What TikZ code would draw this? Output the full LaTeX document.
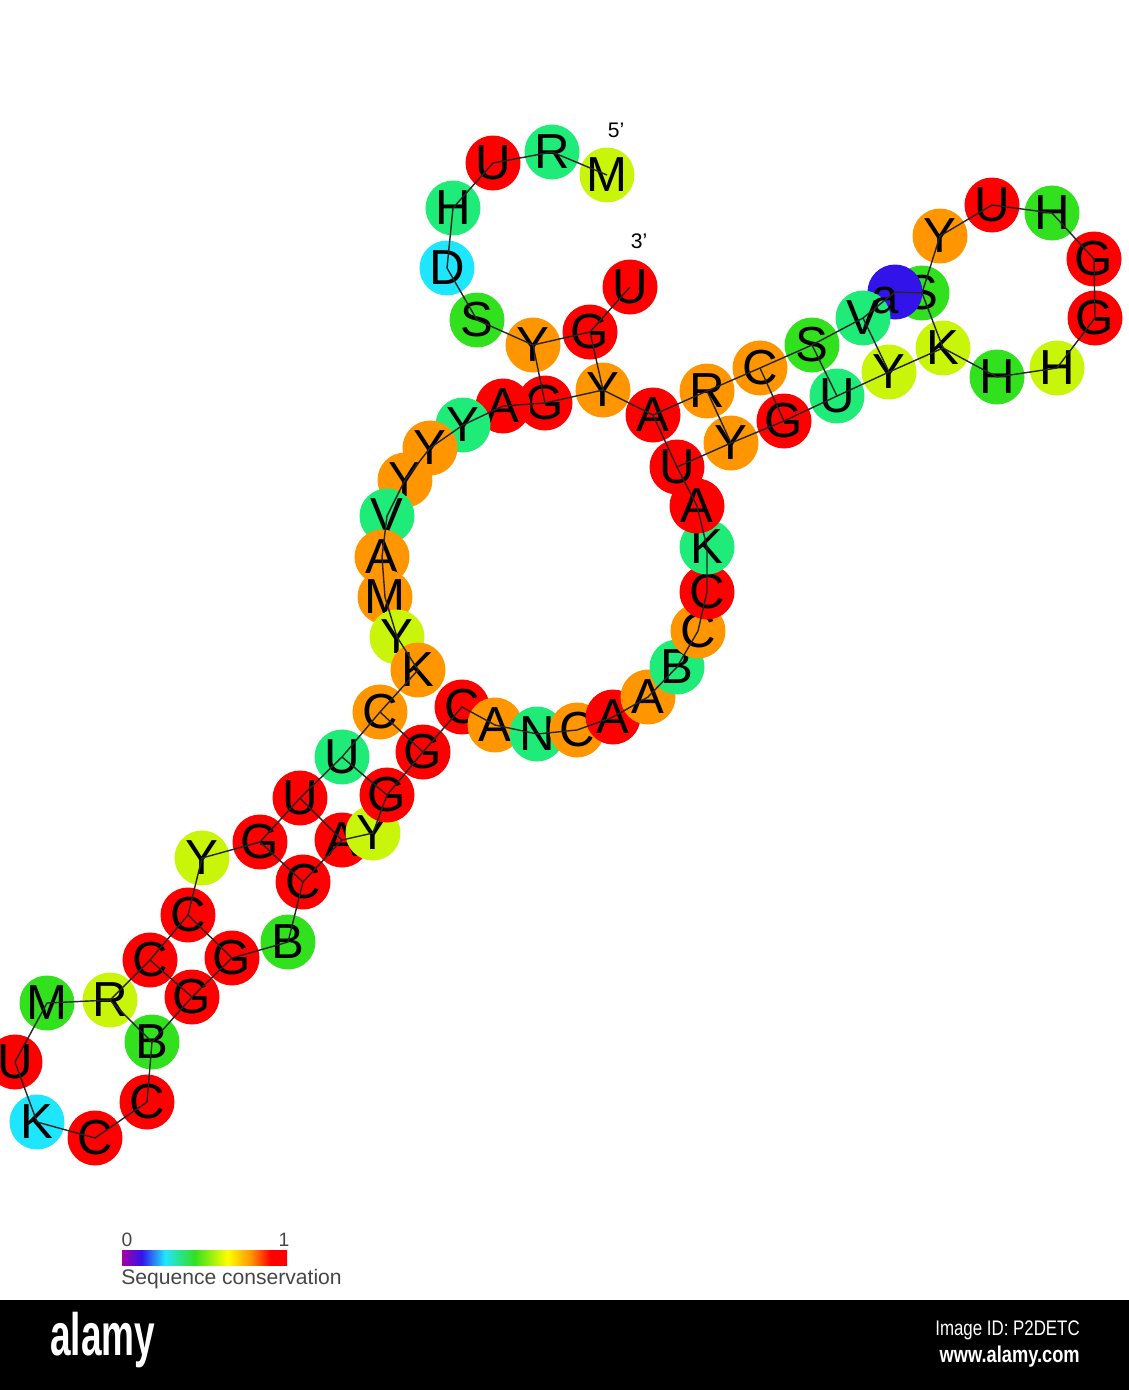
\documentclass[tikz,border=0pt]{standalone}
\usepackage{fontspec}
\setmainfont{Liberation Sans}
\usetikzlibrary{calc}

\definecolor{cRed}{RGB}{255,0,0}
\definecolor{cOrange}{RGB}{255,150,0}
\definecolor{cSpring}{RGB}{30,235,120}
\definecolor{cGreen}{RGB}{50,225,30}
\definecolor{cLime}{RGB}{200,245,10}
\definecolor{cCyan}{RGB}{30,230,255}
\definecolor{cBlue}{RGB}{50,20,235}
\definecolor{cText}{RGB}{70,70,70}

\pgfdeclarehorizontalshading{conservation}{100bp}{color(0bp)=(violet!70!magenta);
  color(25bp)=(violet!70!magenta); color(31bp)=(cBlue); color(38bp)=(cCyan);
  color(47bp)=(cGreen); color(57bp)=(yellow); color(64bp)=(cOrange);
  color(70bp)=(cRed); color(75bp)=(cRed); color(100bp)=(cRed)}

\begin{document}
\begin{tikzpicture}[x=0.02cm, y=-0.02cm,
  nt node/.style={circle, inner sep=0pt, minimum size=1.1cm,
                  font=\fontsize{28}{28}\selectfont},
  link/.style={black!85, line width=0.8pt},
  end label/.style={font=\fontsize{12}{12}\selectfont}]

\useasboundingbox (0,0) rectangle (1129,1390);

% 5' hairpin and top stem
\node[nt node, fill=cLime](1) at (607,175) {M};
\node[nt node, fill=cSpring](2) at (552,152) {R};
\node[nt node, fill=cRed](3) at (493,163) {U};
\node[nt node, fill=cSpring](4) at (453,208) {H};
\node[nt node, fill=cCyan](5) at (447,268) {D};
\node[nt node, fill=cGreen](6) at (477,320) {S};
\node[nt node, fill=cOrange](7) at (533,345) {Y};
\node[nt node, fill=cRed](8) at (545,403) {G};
% multiloop, left side
\node[nt node, fill=cRed](9) at (503,406) {A};
\node[nt node, fill=cSpring](10) at (463,425) {Y};
\node[nt node, fill=cOrange](11) at (430,448) {Y};
\node[nt node, fill=cOrange](12) at (405,480) {Y};
\node[nt node, fill=cSpring](13) at (387,516) {V};
\node[nt node, fill=cOrange](14) at (382,557) {A};
\node[nt node, fill=cOrange](15) at (385,597) {M};
\node[nt node, fill=cLime](16) at (397,637) {Y};
\node[nt node, fill=cOrange](17) at (418,670) {K};
% left stem, outer strand
\node[nt node, fill=cOrange](18) at (380,712) {C};
\node[nt node, fill=cSpring](19) at (342,757) {U};
\node[nt node, fill=cRed](20) at (300,798) {U};
\node[nt node, fill=cRed](21) at (260,842) {G};
\node[nt node, fill=cLime](22) at (202,858) {Y};
\node[nt node, fill=cRed](23) at (188,915) {C};
\node[nt node, fill=cRed](24) at (150,960) {C};
\node[nt node, fill=cLime](25) at (110,1000) {R};
% lower hairpin
\node[nt node, fill=cGreen](26) at (47,1003) {M};
\node[nt node, fill=cRed](27) at (15,1062) {U};
\node[nt node, fill=cCyan](28) at (37,1122) {K};
\node[nt node, fill=cRed](29) at (95,1138) {C};
\node[nt node, fill=cRed](30) at (147,1102) {C};
% left stem, inner strand
\node[nt node, fill=cGreen](31) at (152,1042) {B};
\node[nt node, fill=cRed](32) at (192,997) {G};
\node[nt node, fill=cRed](33) at (232,958) {G};
\node[nt node, fill=cGreen](34) at (288,942) {B};
\node[nt node, fill=cRed](35) at (303,882) {C};
\node[nt node, fill=cRed](36) at (342,840) {A};
\node[nt node, fill=cLime](37) at (373,833) {Y};
\node[nt node, fill=cRed](38) at (387,795) {G};
\node[nt node, fill=cRed](39) at (423,752) {G};
% multiloop, bottom and right side
\node[nt node, fill=cRed](40) at (462,707) {C};
\node[nt node, fill=cOrange](41) at (495,725) {A};
\node[nt node, fill=cSpring](42) at (537,734) {N};
\node[nt node, fill=cOrange](43) at (577,730) {C};
\node[nt node, fill=cRed](44) at (613,717) {A};
\node[nt node, fill=cOrange](45) at (648,697) {A};
\node[nt node, fill=cSpring](46) at (677,667) {B};
\node[nt node, fill=cOrange](47) at (698,631) {C};
\node[nt node, fill=cRed](48) at (707,592) {C};
\node[nt node, fill=cSpring](49) at (707,547) {K};
\node[nt node, fill=cRed](50) at (697,506) {A};
% right stem and hairpin
\node[nt node, fill=cRed](51) at (677,467) {U};
\node[nt node, fill=cOrange](52) at (731,443) {Y};
\node[nt node, fill=cRed](53) at (784,421) {G};
\node[nt node, fill=cSpring](54) at (837,396) {U};
\node[nt node, fill=cLime](55) at (889,372) {Y};
\node[nt node, fill=cLime](56) at (943,348) {K};
\node[nt node, fill=cGreen](57) at (997,377) {H};
\node[nt node, fill=cLime](58) at (1057,368) {H};
\node[nt node, fill=cRed](59) at (1095,318) {G};
\node[nt node, fill=cRed](60) at (1094,259) {G};
\node[nt node, fill=cGreen](61) at (1052,213) {H};
\node[nt node, fill=cRed](62) at (992,205) {U};
\node[nt node, fill=cOrange](63) at (940,236) {Y};
\node[nt node, fill=cGreen](64) at (922,293) {S};
\node[nt node, fill=cBlue](65) at (895,292) {};
\node[nt node, fill=cSpring](66) at (863,318) {V};
\node[nt node, fill=cGreen](67) at (812,345) {S};
\node[nt node, fill=cOrange](68) at (760,368) {C};
\node[nt node, fill=cOrange](69) at (707,391) {R};
\node[nt node, fill=cRed](70) at (653,415) {A};
% top stem, 3' strand
\node[nt node, fill=cOrange](71) at (603,390) {Y};
\node[nt node, fill=cRed](72) at (590,332) {G};
\node[nt node, fill=cRed](73) at (630,287) {U};
\node[font=\fontsize{28}{28}\selectfont] (65l) at (885,300) {a};

% backbone
\draw[link] (1.center) -- (2.center) -- (3.center) -- (4.center) -- (5.center) -- (6.center)
  -- (7.center) -- (8.center) -- (9.center) -- (10.center) -- (11.center) -- (12.center)
  -- (13.center) -- (14.center) -- (15.center) -- (16.center) -- (17.center) -- (18.center)
  -- (19.center) -- (20.center) -- (21.center) -- (22.center) -- (23.center) -- (24.center)
  -- (25.center) -- (26.center) -- (27.center) -- (28.center) -- (29.center) -- (30.center)
  -- (31.center) -- (32.center) -- (33.center) -- (34.center) -- (35.center) -- (36.center)
  -- (37.center) -- (38.center) -- (39.center) -- (40.center) -- (41.center) -- (42.center)
  -- (43.center) -- (44.center) -- (45.center) -- (46.center) -- (47.center) -- (48.center)
  -- (49.center) -- (50.center) -- (51.center) -- (52.center) -- (53.center) -- (54.center)
  -- (55.center) -- (56.center) -- (57.center) -- (58.center) -- (59.center) -- (60.center)
  -- (61.center) -- (62.center) -- (63.center) -- (64.center) -- (65.center) -- (66.center)
  -- (67.center) -- (68.center) -- (69.center) -- (70.center) -- (71.center) -- (72.center)
  -- (73.center);

% base pairs
\draw[link] (7.center) -- (72.center);
\draw[link] (8.center) -- (71.center);
\draw[link] (18.center) -- (39.center);
\draw[link] (19.center) -- (38.center);
\draw[link] (20.center) -- (36.center);
\draw[link] (21.center) -- (35.center);
\draw[link] (23.center) -- (33.center);
\draw[link] (24.center) -- (32.center);
\draw[link] (25.center) -- (31.center);
\draw[link] (51.center) -- (70.center);
\draw[link] (52.center) -- (69.center);
\draw[link] (53.center) -- (68.center);
\draw[link] (54.center) -- (67.center);
\draw[link] (55.center) -- (66.center);
\draw[link] (56.center) -- (64.center);

\node[end label] (five) at (616,130) {5’};
\node[end label] (three) at (639,241) {3’};

% legend
\shade[shading=conservation] (122,1250) rectangle (287,1265);
\node[end label, font=\fontsize{11}{11}\selectfont, cText] (zero) at (127,1240) {0};
\node[end label, font=\fontsize{11}{11}\selectfont, cText] (one) at (284,1240) {1};
\node[anchor=west, inner sep=0pt, cText, font=\fontsize{12}{12}\selectfont] (legend) at (121,1279) {Sequence conservation};

% stock bar
\fill[black] (0,1300) rectangle (1129,1390);
\node[anchor=west, inner sep=0pt, white, xscale=0.62, font=\bfseries\fontsize{34}{34}\selectfont] (brand) at (50,1340) {alamy};
\node[anchor=east, inner sep=0pt, white, xscale=0.8, font=\fontsize{12}{12}\selectfont] (imgid) at (1080,1330) {Image ID: P2DETC};
\node[anchor=east, inner sep=0pt, white, xscale=0.8, font=\bfseries\fontsize{13}{13}\selectfont] (site) at (1080,1357) {www.alamy.com};

\end{tikzpicture}
\end{document}
